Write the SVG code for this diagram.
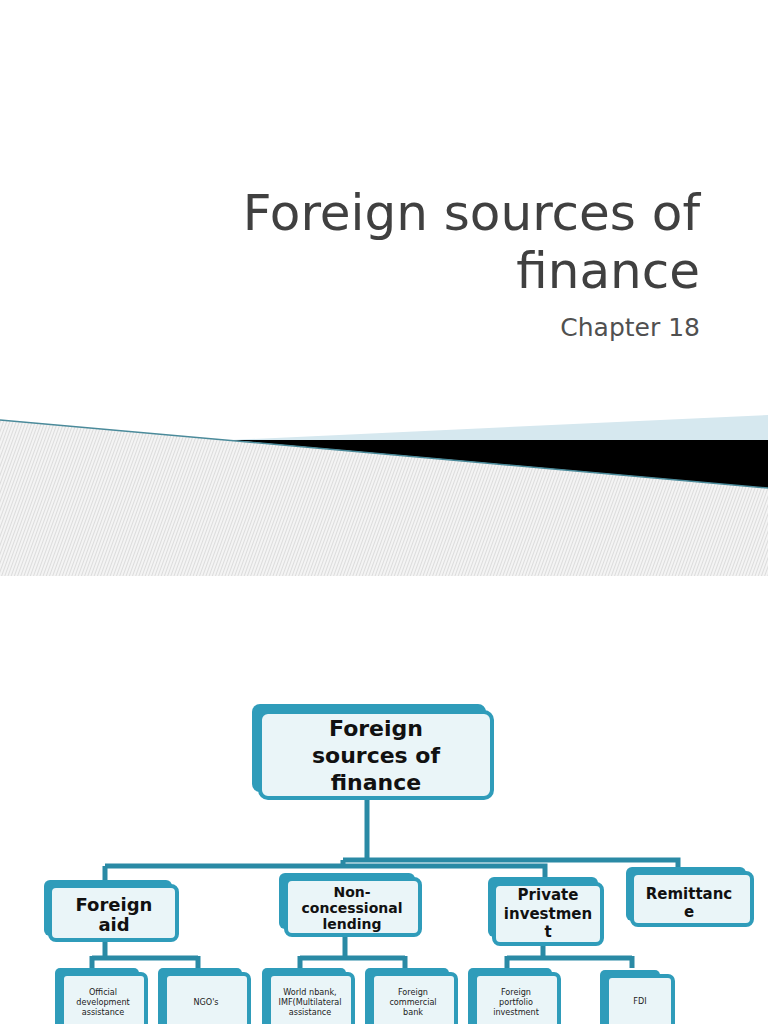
<svg xmlns="http://www.w3.org/2000/svg" width="768" height="1024" viewBox="0 0 768 1024">
<defs>
<pattern id="hatch" width="3" height="3" patternUnits="userSpaceOnUse" patternTransform="rotate(20)">
<rect width="3" height="3" fill="#f4f4f4"/>
<line x1="0" y1="0" x2="0" y2="3" stroke="#c4c4c4" stroke-width="1"/>
</pattern>
</defs>
<style>
.back{fill:#2f9cba}
.front{fill:#eaf5f8;stroke:#2f9cba;stroke-width:4}
.t{font-family:"DejaVu Sans",sans-serif;font-weight:bold;fill:#111;text-anchor:middle}
.s{font-family:"DejaVu Sans Condensed","DejaVu Sans",sans-serif;fill:#222;text-anchor:middle;font-size:9px}
.c{stroke:#2a8aa5;stroke-width:5;fill:none}
</style>
<rect width="768" height="1024" fill="#fff"/>
<polygon points="0,420 768,488 768,576 0,576" fill="url(#hatch)"/>
<polygon points="230,440 768,415 768,440" fill="#d6e8ef"/>
<polygon points="230,440 768,440 768,488" fill="#000"/>
<line x1="0" y1="420" x2="768" y2="488" stroke="#4a8a9a" stroke-width="1.5"/>
<text x="700" y="230" text-anchor="end" font-family="DejaVu Sans,sans-serif" font-size="50" fill="#404040">Foreign sources of</text>
<text x="700" y="288" text-anchor="end" font-family="DejaVu Sans,sans-serif" font-size="50" fill="#404040">finance</text>
<text x="700" y="336" text-anchor="end" font-family="DejaVu Sans,sans-serif" font-size="25" fill="#505050">Chapter 18</text>
<g id="connectors">
<path class="c" d="M367,798 V862 M343,860 H678 V870 M343,860 V866 M105,866 H545 V880 M105,866 V880"/>
<path class="c" d="M105,940 V958 M92,958 H198 M92,956 V968 M198,956 V968"/>
<path class="c" d="M345,935 V958 M300,958 H405 M300,956 V968 M405,956 V968"/>
<path class="c" d="M543,945 V958 M507,958 H632 M507,956 V968 M632,956 V968"/>
</g>
<g id="root"><rect class="back" x="252" y="704" width="234" height="88" rx="8"/><rect class="front" x="260" y="712" width="232" height="86" rx="8"/>
<text class="t" font-size="22" x="376" y="736">Foreign</text><text class="t" font-size="22" x="376" y="763">sources of</text><text class="t" font-size="22" x="376" y="790">finance</text></g>
<g id="aid"><rect class="back" x="44" y="880" width="128" height="56" rx="6"/><rect class="front" x="50" y="886" width="127" height="54" rx="6"/>
<text class="t" font-size="18" x="114" y="911">Foreign</text><text class="t" font-size="18" x="114" y="931">aid</text></g>
<g id="noncon"><rect class="back" x="279" y="873" width="136" height="56" rx="6"/><rect class="front" x="286" y="879" width="134" height="56" rx="6"/>
<text class="t" font-size="14" x="352" y="897">Non-</text><text class="t" font-size="14" x="352" y="913">concessional</text><text class="t" font-size="14" x="352" y="929">lending</text></g>
<g id="private"><rect class="back" x="488" y="877" width="110" height="60" rx="6"/><rect class="front" x="494" y="884" width="108" height="60" rx="6"/>
<text class="t" font-size="15" x="548" y="900">Private</text><text class="t" font-size="15" x="548" y="919">investmen</text><text class="t" font-size="15" x="548" y="937">t</text></g>
<g id="remit"><rect class="back" x="626" y="867" width="120" height="54" rx="6"/><rect class="front" x="632" y="873" width="120" height="52" rx="6"/>
<text class="t" font-size="15" x="689" y="899">Remittanc</text><text class="t" font-size="15" x="689" y="917">e</text></g>
<g id="oda"><rect class="back" x="55" y="968" width="84" height="60" rx="5"/><rect class="front" x="62" y="974" width="84" height="60" rx="5"/>
<text class="s" x="103" y="995">Official</text><text class="s" x="103" y="1005">development</text><text class="s" x="103" y="1015">assistance</text></g>
<g id="ngo"><rect class="back" x="158" y="968" width="84" height="60" rx="5"/><rect class="front" x="165" y="974" width="84" height="60" rx="5"/>
<text class="s" x="206" y="1005">NGO's</text></g>
<g id="wb"><rect class="back" x="262" y="968" width="84" height="60" rx="5"/><rect class="front" x="269" y="974" width="84" height="60" rx="5"/>
<text class="s" x="310" y="995">World nbank,</text><text class="s" x="310" y="1005">IMF(Multilateral</text><text class="s" x="310" y="1015">assistance</text></g>
<g id="fcb"><rect class="back" x="365" y="968" width="84" height="60" rx="5"/><rect class="front" x="372" y="974" width="84" height="60" rx="5"/>
<text class="s" x="413" y="995">Foreign</text><text class="s" x="413" y="1005">commercial</text><text class="s" x="413" y="1015">bank</text></g>
<g id="fpi"><rect class="back" x="468" y="968" width="84" height="60" rx="5"/><rect class="front" x="475" y="974" width="84" height="60" rx="5"/>
<text class="s" x="516" y="995">Foreign</text><text class="s" x="516" y="1005">portfolio</text><text class="s" x="516" y="1015">investment</text></g>
<g id="fdi"><rect class="back" x="600" y="970" width="60" height="60" rx="5"/><rect class="front" x="607" y="976" width="66" height="60" rx="5"/>
<text class="s" x="640" y="1004">FDI</text></g>
</svg>
